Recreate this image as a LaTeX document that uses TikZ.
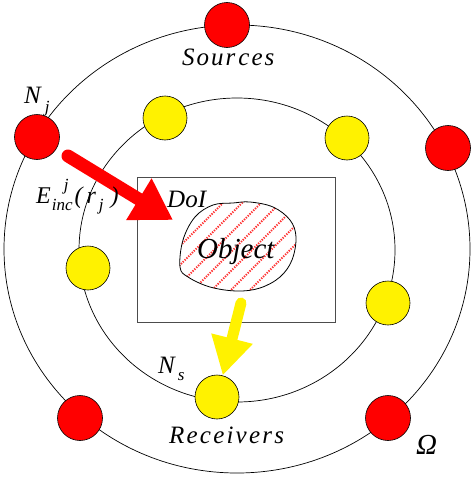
\documentclass[tikz,border=0pt]{standalone}
\usepackage{fontspec}
\setmainfont{LiberationSerif}[Extension=.ttf, UprightFont=*-Regular, ItalicFont=*-Italic, BoldFont=*-Bold]
\usetikzlibrary{arrows.meta, calc}

\newcommand{\lowr}[2][-7pt]{\raisebox{#1}{\fontsize{17}{17}\selectfont #2}}

\begin{document}
\begin{tikzpicture}[x=1pt, y=-1pt,
        src/.style={circle, draw=black, line width=0.6pt, fill=red, minimum size=45pt, inner sep=0pt},
        rcv/.style={circle, draw=black, line width=0.6pt, fill=yellow, minimum size=44pt, inner sep=0pt},
        lbl/.style={inner sep=0pt, anchor=base west, font=\fontsize{25}{28}\selectfont\itshape},
        stripe/.style={red!80!white, line width=2pt, dash pattern=on 1.3pt off 1.3pt},
        ray/.style={line width=#1, line cap=round}
    ]
    \useasboundingbox (0,0) rectangle (474,479);

    % the two rings
    \draw[line width=0.7pt] (237,249) ellipse [x radius=233pt, y radius=224pt];
    \draw[line width=0.7pt] (237,250) ellipse [x radius=158pt, y radius=152pt];

    % domain of interest
    \node[draw=black!70, line width=0.8pt, minimum width=198pt, minimum height=145pt, inner sep=0pt] (doi) at (236,249.5) {};

    % object with hatching
    \def\blob{plot[smooth cycle, tension=0.6] coordinates {(180,267) (183,240) (195,217) (213,205) (233,203) (250,202) (273,207) (290,220) (296,237) (292,260) (280,277) (260,288) (237,291) (210,287) (188,277)}}
    \begin{scope}
        \clip \blob;
        \fill[white] (170,190) rectangle (310,300);
        \foreach \k in {0,19,...,266}
            \draw[stripe] (\k+40,310) -- ++(150,-150);
    \end{scope}
    \draw[line width=0.8pt] \blob;

    % sources
    \node[src] (s1) at (227,25) {};
    \node[src] (sj) at (37,137) {};
    \node[src] (s3) at (448,148) {};
    \node[src] (s4) at (80,418) {};
    \node[src] (s5) at (388,418) {};

    % receivers
    \node[rcv] (r1) at (165,118) {};
    \node[rcv] (r2) at (347,138) {};
    \node[rcv] (r3) at (88,268) {};
    \node[rcv] (r4) at (388,303) {};
    \node[rcv] (r5) at (217,397) {};

    % incident and scattered fields
    \coordinate (hit) at (173,220);
    \coordinate (objS) at (241,303);
    \draw[ray=13pt, red, -{Triangle[length=40pt, width=46pt]}] ([shift={(31,19)}]sj.center) -- (hit);
    \draw[ray=11pt, yellow, -{Triangle[length=38pt, width=40pt]}] (objS) -- (r5.75);

    % labels
    \node[lbl] (tsrc) at (182,65) {S\kern2pt o\kern2pt u\kern2pt r\kern3pt c\kern2pt e\kern2pt s};
    \node[lbl] (trcv) at (169,443) {R\kern2.2pt e\kern2.2pt c\kern2.2pt e\kern2.2pt i\kern2.2pt v\kern2.2pt e\kern2.2pt r\kern2.2pt s};
    \node[lbl] (tdoi) at (167,207) {DoI};
    \node[lbl, font=\fontsize{29}{30}\selectfont\itshape] (tobj) at (197,258) {Object};
    \node[lbl, font=\fontsize{29}{30}\selectfont\itshape] (tomg) at (416,454) {Ω};
    \node[lbl] (tnj) at (24,103) {N\hspace{4pt}\lowr[-9pt]{j}};
    \node[lbl] (tns) at (158,373) {N\hspace{3pt}\lowr[-7pt]{s}};
    \node[lbl, font=\fontsize{24}{26}\selectfont\itshape] (tinc) at (36,203)
        {E\rlap{\hspace{13pt}\raisebox{13pt}{\fontsize{17}{17}\selectfont j}}\kern1pt\lowr[-7pt]{inc}\kern2pt(\kern4pt r\kern3pt\lowr[-7pt]{j}\kern7pt)};
\end{tikzpicture}
\end{document}
